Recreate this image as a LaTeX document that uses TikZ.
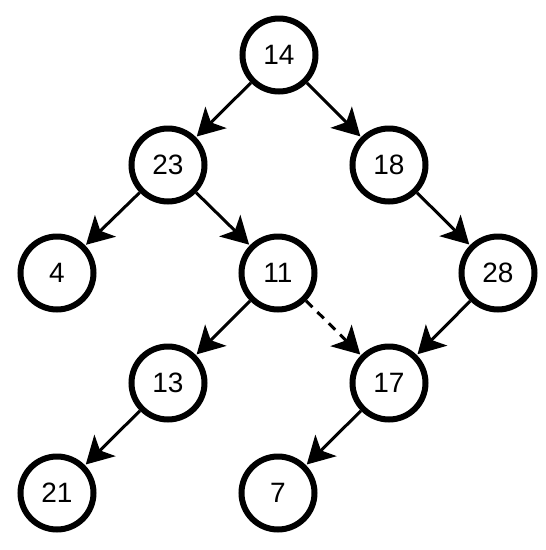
\documentclass[tikz,border=0pt]{standalone}
\usepackage{fontspec}
\setmainfont{Liberation Sans}
\usetikzlibrary{arrows.meta}
\begin{document}
\begin{tikzpicture}[x=1pt,y=-1pt,
  vert/.style={circle,draw=black,line width=6pt,minimum size=73pt,inner sep=0pt,font=\fontsize{28}{28}\selectfont},
  edge/.style={line width=3pt,-{Stealth[length=27pt,width=30pt,inset=7pt]},shorten >=1pt},
  dedge/.style={edge,dash pattern=on 9pt off 7pt}]
\useasboundingbox (0,0) rectangle (546,550);
\node[vert] (n14) at (279,55) {14};
\node[vert] (n23) at (168,165) {23};
\node[vert] (n18) at (389,165) {18};
\node[vert] (n4) at (57,273) {4};
\node[vert] (n11) at (278,273) {11};
\node[vert] (n28) at (498,273) {28};
\node[vert] (n13) at (168,383) {13};
\node[vert] (n17) at (389,383) {17};
\node[vert] (n21) at (57,493) {21};
\node[vert] (n7) at (278,493) {7};
\draw[edge] (n14) -- (n23);
\draw[edge] (n14) -- (n18);
\draw[edge] (n23) -- (n4);
\draw[edge] (n23) -- (n11);
\draw[edge] (n18) -- (n28);
\draw[edge] (n11) -- (n13);
\draw[dedge] (n11) -- (n17);
\draw[edge] (n28) -- (n17);
\draw[edge] (n13) -- (n21);
\draw[edge] (n17) -- (n7);
\end{tikzpicture}
\end{document}
